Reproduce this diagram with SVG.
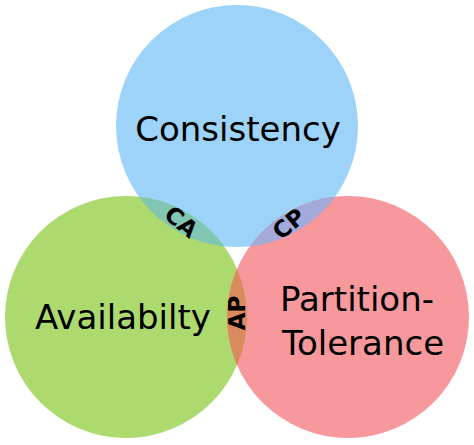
<svg xmlns="http://www.w3.org/2000/svg" width="474" height="445" viewBox="0 0 474 445">
  <style>
    .lbl { font-family: "DejaVu Sans", sans-serif; font-size: 34px; fill: #000; text-anchor: middle; }
    .ov { font-family: "DejaVu Sans", sans-serif; font-size: 23px; font-weight: bold; fill: #000; text-anchor: middle; }
  </style>
  <defs>
    <clipPath id="clipC"><circle cx="237" cy="126" r="121"/></clipPath>
    <clipPath id="clipP"><circle cx="348" cy="317" r="121"/></clipPath>
  </defs>
  <rect width="474" height="445" fill="#ffffff"/>
  <g id="consistency">
    <circle cx="237" cy="126" r="121" fill="#9dd3f8"/>
    <text class="lbl" x="238" y="141">Consistency</text>
  </g>
  <g id="availability">
    <circle cx="126" cy="317" r="121" fill="#acda6f"/>
    <text class="lbl" x="123" y="329">Availabilty</text>
  </g>
  <g id="partition">
    <circle cx="348" cy="317" r="121" fill="#f7999c"/>
    <text class="lbl" x="357" y="311">Partition-</text>
    <text class="lbl" x="363" y="355">Tolerance</text>
  </g>
  <g id="ca">
    <circle cx="126" cy="317" r="121" fill="#80c6b3" clip-path="url(#clipC)"/>
    <text class="ov" transform="translate(176 228) rotate(40)">CA</text>
  </g>
  <g id="cp">
    <circle cx="348" cy="317" r="121" fill="#a3a9d9" clip-path="url(#clipC)"/>
    <text class="ov" transform="translate(294 230) rotate(-40)">CP</text>
  </g>
  <g id="ap">
    <circle cx="126" cy="317" r="121" fill="#d98b5d" clip-path="url(#clipP)"/>
    <text class="ov" transform="translate(245 313) rotate(-90)">AP</text>
  </g>
  <g id="connectors"/>
</svg>
